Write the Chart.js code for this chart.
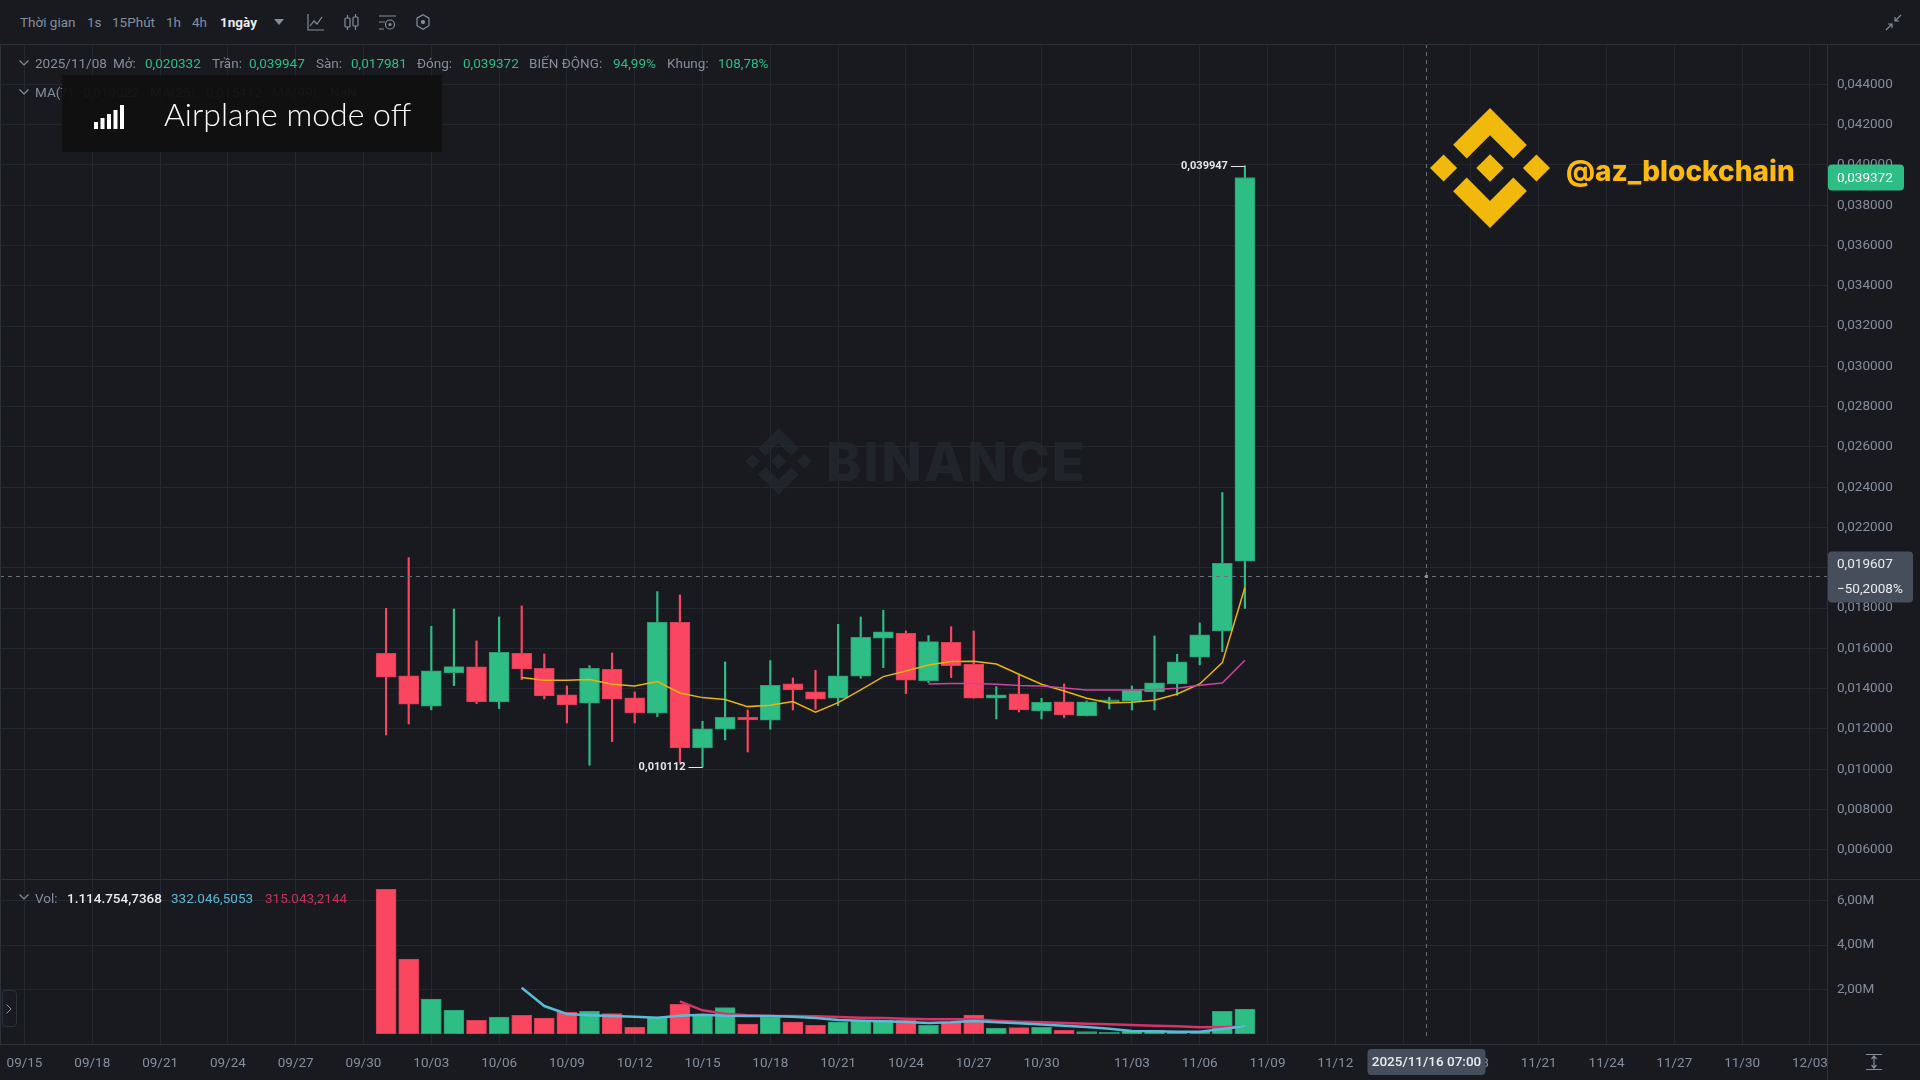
<!DOCTYPE html>
<html>
<head>
<meta charset="utf-8">
<script src="https://cdn.jsdelivr.net/npm/chart.js@4.4.1/dist/chart.umd.min.js"></script>
<style>
html, body { margin: 0; padding: 0; width: 1920px; height: 1080px; overflow: hidden; background: #181a20; font-family: Roboto, sans-serif; }
canvas { position: absolute; left: 0; display: block; }
.t { position: absolute; white-space: nowrap; font-size: 13.5px; line-height: 16px; color: #848e9c; }
.g { color: #2ebd85; }
.ln { position: absolute; background: #2b3139; }
svg { position: absolute; overflow: visible; }
</style>
</head>
<body>

<!-- watermark sits behind the transparent canvases -->
<svg style="left:745px;top:428px" width="67" height="67" viewBox="0 0 126.61 126.61" fill="#20242b"><path id="bnb" d="M38.73 53.2l24.59-24.58 24.6 24.6 14.3-14.31L63.32 0 24.43 38.89zM0 63.31l14.3-14.31 14.31 14.31-14.31 14.3zM38.73 73.41l24.59 24.59 24.6-24.6 14.31 14.29L63.32 126.61 24.43 87.73l-.02-.02zM98 63.31l14.3-14.31 14.31 14.3-14.31 14.31zM77.83 63.3L63.32 48.78 52.59 59.51l-1.24 1.23-2.54 2.54 14.51 14.5 14.51-14.47z"/></svg>
<div class="t" style="left:826px;top:429px;font:800 53px/66px Inter,sans-serif;letter-spacing:2.4px;color:#20242b">BINANCE</div>

<canvas id="priceChart" width="1920" height="836" style="top:44px"></canvas>
<canvas id="volChart" width="1920" height="200" style="top:880px"></canvas>

<div class="ln" style="left:0;top:44px;width:1920px;height:1px"></div>
<div class="ln" style="left:0;top:879px;width:1920px;height:1px"></div>
<div class="ln" style="left:0;top:1044px;width:1920px;height:1px"></div>
<div class="ln" style="left:1827px;top:44px;width:1px;height:1036px"></div>
<div class="ln" style="left:0;top:44px;width:1px;height:1000px"></div>

<!-- toolbar -->
<div class="t" style="left:20px;top:14px">Thời gian</div>
<div class="t" style="left:87px;top:14px">1s</div>
<div class="t" style="left:112px;top:14px">15Phút</div>
<div class="t" style="left:166px;top:14px">1h</div>
<div class="t" style="left:192px;top:14px">4h</div>
<div class="t" style="left:220px;top:14px;color:#eaecef;font-weight:700">1ngày</div>
<svg style="left:274px;top:19px" width="10" height="7"><path d="M0 0h10L5 6z" fill="#848e9c"/></svg>
<svg style="left:307px;top:14px" width="17" height="17" fill="none" stroke="#848e9c" stroke-width="1.2"><path d="M1 0v16h16M3 12l4-5 3 3 5-7"/></svg>
<svg style="left:344px;top:14px" width="15" height="17" fill="none" stroke="#848e9c" stroke-width="1.2"><rect x="1" y="4" width="5" height="9" rx="1"/><rect x="9" y="3" width="5" height="9" rx="1"/><path d="M3.5 1v3M3.5 13v3M11.500 0v3M11.500 12v4"/></svg>
<svg style="left:379px;top:15px" width="17" height="16" fill="none" stroke="#848e9c" stroke-width="1.2"><path d="M0 1h17M0 7h6M0 14h5"/><circle cx="11" cy="9.500" r="4.500"/><circle cx="11" cy="9.500" r="1" fill="#848e9c"/></svg>
<svg style="left:416px;top:14px" width="14" height="16" fill="none" stroke="#848e9c" stroke-width="1.2"><path d="M7 .7l6 3.500v7.500l-6 3.500-6-3.500V4.200z"/><circle cx="7" cy="8" r="1.500" fill="#848e9c"/></svg>
<svg style="left:1886px;top:15px" width="15" height="15" fill="none" stroke="#848e9c" stroke-width="1.200"><path d="M15 0L9 6M9 2v4h4M0 15l6-6M2 9h4v4"/></svg>

<!-- legend rows -->
<svg style="left:19px;top:60px" width="10" height="6" fill="none" stroke="#848e9c" stroke-width="1.200"><path d="M.5.5L5 5 9.500.5"/></svg>
<div class="t" style="left:35px;top:55px">2025/11/08</div>
<div class="t" style="left:113px;top:55px">Mở:</div>
<div class="t g" style="left:145px;top:55px">0,020332</div>
<div class="t" style="left:212px;top:55px">Trần:</div>
<div class="t g" style="left:249px;top:55px">0,039947</div>
<div class="t" style="left:316px;top:55px">Sàn:</div>
<div class="t g" style="left:351px;top:55px">0,017981</div>
<div class="t" style="left:417px;top:55px">Đóng:</div>
<div class="t g" style="left:463px;top:55px">0,039372</div>
<div class="t" style="left:529px;top:55px">BIẾN ĐỘNG:</div>
<div class="t g" style="left:613px;top:55px">94,99%</div>
<div class="t" style="left:667px;top:55px">Khung:</div>
<div class="t g" style="left:718px;top:55px">108,78%</div>

<svg style="left:19px;top:89px" width="10" height="6" fill="none" stroke="#848e9c" stroke-width="1.200"><path d="M.5.5L5 5 9.500.5"/></svg>
<div class="t" style="left:35px;top:84px">MA(7):</div>
<div class="t" style="left:83px;top:84px">0,019022</div>
<div class="t" style="left:150px;top:84px">MA(25):</div>
<div class="t" style="left:206px;top:84px">0,015412</div>
<div class="t" style="left:272px;top:84px">MA(99):</div>
<div class="t" style="left:330px;top:84px">NaN</div>

<!-- toast on top of the legend -->
<div style="position:absolute;left:62px;top:75px;width:380px;height:77px;background:rgba(16,16,17,0.95)"></div>
<svg style="left:94px;top:105px" width="30" height="24" fill="#fff"><rect x="0" y="17" width="4" height="7"/><rect x="6.500" y="13" width="4" height="11"/><rect x="13" y="9" width="4" height="15"/><rect x="19.500" y="5" width="4" height="19"/><rect x="26" y="0" width="4" height="24"/></svg>
<div class="t" style="left:164px;top:93px;font:300 32px/42px Lato,sans-serif;color:#fff">Airplane mode off</div>

<!-- brand -->
<svg style="left:1430px;top:108px" width="120" height="120" viewBox="0 0 126.61 126.61" fill="#f0b90b"><use href="#bnb"/></svg>
<div class="t" style="left:1566px;top:152px;font:800 28px/38px Inter,sans-serif;color:#fcb90f">@az_blockchain</div>

<!-- volume legend -->
<svg style="left:19px;top:894px" width="10" height="6" fill="none" stroke="#848e9c" stroke-width="1.200"><path d="M.5.5L5 5 9.500.5"/></svg>
<div class="t" style="left:35px;top:890px">Vol:</div>
<div class="t" style="left:67px;top:890px;color:#eaecef;font-weight:500">1.114.754,7368</div>
<div class="t" style="left:171px;top:890px;color:#5ab8d0">332.046,5053</div>
<div class="t" style="left:265px;top:890px;color:#c9305c">315.043,2144</div>

<div style="position:absolute;left:2px;top:990px;width:13px;height:35px;border:1px solid #2b3139;border-radius:4px"></div>
<svg style="left:6px;top:1004px" width="6" height="10" fill="none" stroke="#848e9c" stroke-width="1"><path d="M.5.5L5 5 .5 9.500"/></svg>
<svg style="left:1866px;top:1054px" width="16" height="16" fill="none" stroke="#848e9c" stroke-width="1.200"><path d="M0 .5h16M0 15.500h16M8 2v12M5.500 5L8 2l2.500 3M5.500 11L8 14l2.500-3"/></svg>

<script>
// dias contados desde 09/15
const tickDays = [0, 3, 6, 9, 12, 15, 18, 21, 24, 27, 30, 33, 36, 39, 42, 45, 49, 52, 55, 58, 61, 64, 67, 70, 73, 76, 79];
const tickLabels = ["09/15", "09/18", "09/21", "09/24", "09/27", "09/30", "10/03", "10/06", "10/09", "10/12", "10/15", "10/18", "10/21", "10/24", "10/27", "10/30", "11/03", "11/06", "11/09", "11/12", "11/15", "11/18", "11/21", "11/24", "11/27", "11/30", "12/03"];
const priceTicks = [0.006, 0.008, 0.01, 0.012, 0.014, 0.016, 0.018, 0.02, 0.022, 0.024, 0.026, 0.028, 0.03, 0.032, 0.034, 0.036, 0.038, 0.04, 0.042, 0.044];
const volTicks = [2, 4, 6];
const firstCandleDay = 16;

const opens = [0.015758, 0.014633, 0.013127, 0.014798, 0.015079, 0.013342, 0.015758, 0.015013, 0.01369, 0.013276, 0.014964, 0.013541, 0.01278, 0.017296, 0.011059, 0.011985, 0.012581, 0.012432, 0.014236, 0.013838, 0.013524, 0.014616, 0.016502, 0.01675, 0.014401, 0.016304, 0.015212, 0.013524, 0.013739, 0.012895, 0.013342, 0.012647, 0.013342, 0.013375, 0.013838, 0.014236, 0.015559, 0.016866, 0.020332];
const closes = [0.014566, 0.013226, 0.014881, 0.015096, 0.013342, 0.015807, 0.01498, 0.01364, 0.013193, 0.015013, 0.013474, 0.012796, 0.017296, 0.011059, 0.012002, 0.012581, 0.012449, 0.014169, 0.013938, 0.013474, 0.014633, 0.016552, 0.016817, 0.014418, 0.016337, 0.015145, 0.013524, 0.01369, 0.012945, 0.013326, 0.012697, 0.013342, 0.013441, 0.013938, 0.014285, 0.015327, 0.016668, 0.020225, 0.039372];
const highs = [0.01799, 0.020506, 0.017098, 0.017958, 0.01637, 0.017561, 0.018107, 0.015725, 0.014136, 0.015145, 0.015774, 0.013838, 0.018818, 0.018653, 0.012382, 0.015327, 0.012945, 0.015394, 0.014533, 0.014914, 0.017197, 0.017561, 0.017892, 0.016866, 0.016635, 0.017081, 0.016866, 0.014103, 0.014682, 0.013524, 0.014236, 0.013392, 0.013574, 0.014136, 0.016618, 0.015708, 0.017263, 0.023739, 0.039947];
const lows = [0.011704, 0.01225, 0.012945, 0.014153, 0.013259, 0.013011, 0.01445, 0.013491, 0.0123, 0.010199, 0.011373, 0.0123, 0.012614, 0.010331, 0.010112, 0.011456, 0.01086, 0.011985, 0.012945, 0.012978, 0.01316, 0.014517, 0.015046, 0.013756, 0.014302, 0.01455, 0.013524, 0.012498, 0.012846, 0.012498, 0.012565, 0.012647, 0.012995, 0.012945, 0.012945, 0.013673, 0.015179, 0.01584, 0.017981];
const ma7 = [null, null, null, null, null, null, 0.01455, 0.014418, 0.014418, 0.01445, 0.014219, 0.014136, 0.014351, 0.013789, 0.013557, 0.013458, 0.01311, 0.013177, 0.013359, 0.012829, 0.013309, 0.013938, 0.0146, 0.014881, 0.015179, 0.015344, 0.015361, 0.015228, 0.014715, 0.014219, 0.013888, 0.013524, 0.013292, 0.013326, 0.013425, 0.013739, 0.014236, 0.015294, 0.019022];
const ma25 = [null, null, null, null, null, null, null, null, null, null, null, null, null, null, null, null, null, null, null, null, null, null, null, null, 0.014236, 0.014252, 0.014252, 0.014219, 0.014153, 0.014136, 0.014037, 0.013938, 0.013938, 0.013938, 0.013954, 0.01402, 0.014169, 0.014285, 0.015412];

const volumes = [6.51, 3.37, 1.564, 1.068, 0.6, 0.752, 0.827, 0.707, 0.977, 1.008, 0.902, 0.286, 0.75, 1.323, 0.84, 1.173, 0.436, 0.752, 0.526, 0.376, 0.526, 0.617, 0.617, 0.6, 0.376, 0.526, 0.842, 0.256, 0.271, 0.286, 0.15, 0.09, 0.06, 0.105, 0.15, 0.12, 0.105, 1.008, 1.1148];
const volMaFast = [null, null, null, null, null, null, 2.075, 1.248, 0.887, 0.827, 0.797, 0.767, 0.72, 0.81, 0.857, 0.81, 0.8, 0.8, 0.767, 0.707, 0.617, 0.586, 0.556, 0.526, 0.48, 0.511, 0.571, 0.511, 0.466, 0.42, 0.36, 0.3, 0.225, 0.12, 0.105, 0.09, 0.09, 0.21, 0.332];
const volMaSlow = [null, null, null, null, null, null, null, null, null, null, null, null, null, 1.459, 1.053, 0.902, 0.827, 0.797, 0.797, 0.782, 0.752, 0.722, 0.707, 0.677, 0.647, 0.647, 0.647, 0.586, 0.541, 0.511, 0.481, 0.451, 0.421, 0.391, 0.361, 0.331, 0.286, 0.3, 0.315];

const crossDay = 62;
const crossPrice = 0.019607;
const lastClose = 0.039372;
const topHigh = 0.039947;
const bottomLow = 0.010112;

const GREEN = "#2ebd85";
const RED = "#fb4660";
const GRID = "#23272e";
const TEXT = "#848e9c";
const axisFont = { family: "Roboto", size: 13.5 };
const xMin = -1.084;
const xMax = 79.8;

const candleColors = opens.map((o, i) => closes[i] >= o ? GREEN : RED);
const candleEdges = opens.map((o, i) => closes[i] >= o ? "#2a9d75" : "#d63d58");

function dayPoints(values) {
    return values.map((v, i) => ({ x: firstCandleDay + i, y: v }));
}

function lineDataset(values, color, width) {
    return { type: "line", data: dayPoints(values), borderColor: color, borderWidth: width, pointRadius: 0, tension: 0, spanGaps: false, order: 0 };
}

function formatPrice(v) {
    return v.toFixed(6).replace(".", ",");
}

function xScaleOptions(showLabels) {
    return {
        type: "linear",
        offset: false,
        min: xMin,
        max: xMax,
        afterBuildTicks(scale) { scale.ticks = tickDays.map((d) => ({ value: d })); },
        afterFit(scale) {
            scale.height = showLabels ? 36 : 0;
            scale.paddingLeft = 0;
            scale.paddingRight = 0;
        },
        grid: { color: GRID, drawTicks: false, offset: false },
        border: { display: false },
        ticks: {
            display: showLabels,
            autoSkip: false,
            maxRotation: 0,
            color: TEXT,
            font: axisFont,
            padding: 12,
            callback: (v) => tickLabels[tickDays.indexOf(v)]
        }
    };
}

function yScaleOptions(min, max, values, format) {
    return {
        position: "right",
        min: min,
        max: max,
        afterBuildTicks(scale) { scale.ticks = values.map((v) => ({ value: v })); },
        afterFit(scale) {
            scale.width = 92;
            scale.paddingTop = 0;
            scale.paddingBottom = 0;
        },
        grid: { color: GRID, drawTicks: false },
        border: { display: false },
        ticks: { color: TEXT, font: axisFont, padding: 9, crossAlign: "near", callback: format }
    };
}

function tag(ctx, x, y, w, h, color) {
    ctx.fillStyle = color;
    ctx.beginPath();
    ctx.roundRect(x, y, w, h, 4);
    ctx.fill();
}

function dashed(ctx, x1, y1, x2, y2) {
    ctx.strokeStyle = "#6a7079";
    ctx.lineWidth = 1;
    ctx.setLineDash([4, 4]);
    ctx.beginPath();
    ctx.moveTo(x1, y1);
    ctx.lineTo(x2, y2);
    ctx.stroke();
    ctx.setLineDash([]);
}

const priceOverlay = {
    id: "priceOverlay",
    afterDraw(chart) {
        const { ctx, chartArea } = chart;
        const xs = chart.scales.x;
        const ys = chart.scales.y;
        ctx.save();
        const cx = Math.round(xs.getPixelForValue(crossDay)) + 0.5;
        const cy = Math.round(ys.getPixelForValue(crossPrice)) + 0.5;
        dashed(ctx, cx, chartArea.top, cx, chartArea.bottom);
        dashed(ctx, 0, cy, chartArea.right, cy);
        ctx.fillStyle = "#8a9099";
        ctx.fillRect(cx - 1.5, cy - 1.5, 3, 3);

        // maximo y minimo visibles
        ctx.font = "700 11px Roboto";
        ctx.textAlign = "right";
        ctx.textBaseline = "middle";
        ctx.strokeStyle = "#e4e6ea";
        ctx.fillStyle = "#e4e6ea";
        ctx.lineWidth = 1;
        [[firstCandleDay + 38, topHigh], [firstCandleDay + 14, bottomLow]].forEach(([day, value]) => {
            const x = xs.getPixelForValue(day);
            const y = Math.round(ys.getPixelForValue(value)) + 0.5;
            ctx.beginPath();
            ctx.moveTo(x - 14, y);
            ctx.lineTo(x, y);
            ctx.stroke();
            ctx.fillText(formatPrice(value), x - 17, y);
        });

        // etiquetas del eje derecho
        const right = chartArea.right;
        const closeY = ys.getPixelForValue(lastClose);
        tag(ctx, right, closeY - 13, 76, 26, GREEN);
        ctx.textAlign = "left";
        ctx.font = "400 13.5px Roboto";
        ctx.fillStyle = "#ffffff";
        ctx.fillText(formatPrice(lastClose), right + 9, closeY + 1);
        tag(ctx, right, cy - 25, 85, 51, "#474e5b");
        ctx.fillStyle = "#eaecef";
        ctx.fillText(formatPrice(crossPrice), right + 9, cy - 12);
        ctx.fillText("−50,2008%", right + 9, cy + 13);
        ctx.restore();
    }
};

const volOverlay = {
    id: "volOverlay",
    afterDraw(chart) {
        const { ctx, chartArea } = chart;
        const cx = Math.round(chart.scales.x.getPixelForValue(crossDay)) + 0.5;
        ctx.save();
        dashed(ctx, cx, chartArea.top, cx, chartArea.bottom - 4);
        tag(ctx, cx - 59, chartArea.bottom + 5, 118, 26, "#474e5b");
        ctx.font = "500 13.5px Roboto";
        ctx.fillStyle = "#eaecef";
        ctx.textAlign = "center";
        ctx.textBaseline = "middle";
        ctx.fillText("2025/11/16 07:00", cx, chartArea.bottom + 19);
        ctx.restore();
    }
};

new Chart(document.getElementById("priceChart"), {
    plugins: [priceOverlay],
    data: {
        datasets: [
            { type: "bar", data: lows.map((l, i) => ({ x: firstCandleDay + i, y: [l, highs[i]] })), backgroundColor: candleColors, barThickness: 1.5, grouped: false, order: 2 },
            { type: "bar", data: opens.map((o, i) => ({ x: firstCandleDay + i, y: [o, closes[i]] })), backgroundColor: candleColors, borderColor: candleEdges, borderWidth: 1, borderSkipped: false, barThickness: 20, grouped: false, order: 1 },
            lineDataset(ma25, "#cf44a0", 1.5),
            lineDataset(ma7, "#ecb30c", 1.5)
        ]
    },
    options: {
        responsive: false,
        animation: false,
        layout: { padding: 0 },
        plugins: { legend: { display: false }, tooltip: { enabled: false } },
        scales: {
            x: xScaleOptions(false),
            y: yScaleOptions(0.004504, 0.046, priceTicks, formatPrice)
        }
    }
});

new Chart(document.getElementById("volChart"), {
    plugins: [volOverlay],
    data: {
        datasets: [
            { type: "bar", data: dayPoints(volumes), backgroundColor: candleColors, borderColor: candleEdges, borderWidth: 1, borderSkipped: false, barThickness: 20, grouped: false, order: 1 },
            lineDataset(volMaFast, "#58bdd4", 2.5),
            lineDataset(volMaSlow, "#d6336c", 2.5)
        ]
    },
    options: {
        responsive: false,
        animation: false,
        layout: { padding: 0 },
        plugins: { legend: { display: false }, tooltip: { enabled: false } },
        scales: {
            x: xScaleOptions(true),
            y: yScaleOptions(-0.4646, 6.933, volTicks, (v) => v.toFixed(2).replace(".", ",") + "M")
        }
    }
});
</script>
</body>
</html>
